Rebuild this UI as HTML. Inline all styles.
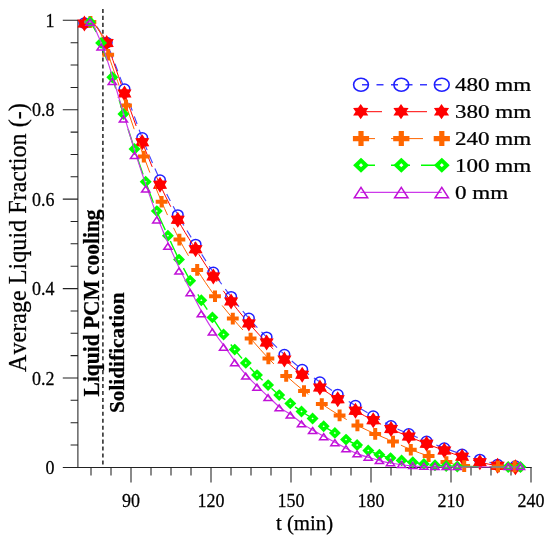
<!DOCTYPE html><html><head><meta charset="utf-8"><title>Average Liquid Fraction</title><style>html,body{margin:0;padding:0;background:#fff}svg{display:block}text{font-family:"Liberation Serif","Times New Roman",serif;fill:#000;stroke:#000;stroke-width:0.25px}</style></head><body>
<svg width="550" height="540" viewBox="0 0 550 540">
<rect width="550" height="540" fill="#fff"/>
<path d="M77.9 19.8V467.4M62.8 467.4H531.8M62.8 467.4H77.9M70.6 445.0H77.9M70.6 422.7H77.9M70.6 400.3H77.9M62.8 378.0H77.9M70.6 355.6H77.9M70.6 333.3H77.9M70.6 310.9H77.9M62.8 288.6H77.9M70.6 266.2H77.9M70.6 243.8H77.9M70.6 221.5H77.9M62.8 199.1H77.9M70.6 176.8H77.9M70.6 154.4H77.9M70.6 132.1H77.9M62.8 109.7H77.9M70.6 87.4H77.9M70.6 65.0H77.9M70.6 42.7H77.9M62.8 20.3H77.9M91.0 467.4V475.4M111.0 467.4V475.4M131.0 467.4V482.4M151.0 467.4V475.4M171.0 467.4V475.4M191.0 467.4V475.4M211.0 467.4V482.4M231.0 467.4V475.4M251.0 467.4V475.4M271.0 467.4V475.4M291.0 467.4V482.4M311.0 467.4V475.4M331.0 467.4V475.4M351.0 467.4V475.4M371.0 467.4V482.4M391.0 467.4V475.4M411.0 467.4V475.4M431.0 467.4V475.4M451.0 467.4V482.4M471.0 467.4V475.4M491.0 467.4V475.4M511.0 467.4V475.4M531.0 467.4V482.4" stroke="#222" stroke-width="1.05" fill="none"/>
<path d="M102.9 8.9V464.5" stroke="#222" stroke-width="1.5" stroke-dasharray="4.1 2.846" fill="none"/>
<text transform="translate(54.5 473.9) scale(0.918 1)" font-size="19.6" text-anchor="end">0</text>
<text transform="translate(54.5 384.5) scale(0.918 1)" font-size="19.6" text-anchor="end">0.2</text>
<text transform="translate(54.5 295.1) scale(0.918 1)" font-size="19.6" text-anchor="end">0.4</text>
<text transform="translate(54.5 205.6) scale(0.918 1)" font-size="19.6" text-anchor="end">0.6</text>
<text transform="translate(54.5 116.2) scale(0.918 1)" font-size="19.6" text-anchor="end">0.8</text>
<text transform="translate(54.5 26.8) scale(0.918 1)" font-size="19.6" text-anchor="end">1</text>
<text transform="translate(131.0 507.4) scale(0.918 1)" font-size="19.6" text-anchor="middle">90</text>
<text transform="translate(211.0 507.4) scale(0.918 1)" font-size="19.6" text-anchor="middle">120</text>
<text transform="translate(291.0 507.4) scale(0.918 1)" font-size="19.6" text-anchor="middle">150</text>
<text transform="translate(371.0 507.4) scale(0.918 1)" font-size="19.6" text-anchor="middle">180</text>
<text transform="translate(451.0 507.4) scale(0.918 1)" font-size="19.6" text-anchor="middle">210</text>
<text transform="translate(531.0 507.4) scale(0.918 1)" font-size="19.6" text-anchor="middle">240</text>
<text x="304.5" y="529.7" font-size="20.8" text-anchor="middle">t (min)</text>
<text transform="translate(26 237.6) rotate(-90) scale(0.943 1)" font-size="25.6" text-anchor="middle" style="font-kerning:none" id="ylab">Average Liquid Fraction (-)</text>
<text transform="translate(98.8 302.9) rotate(-90) scale(0.966 1)" font-size="22.2" font-weight="bold" text-anchor="middle" id="ann1">Liquid PCM cooling</text>
<text transform="translate(123.9 352.7) rotate(-90) scale(0.968 1)" font-size="22" font-weight="bold" text-anchor="middle" id="ann2">Solidification</text>
<g id="s480">
<path d="M84.4 22.0 C85.3 22.0 88.5 21.7 90.0 21.8 C91.5 21.9 92.4 21.9 93.5 22.6 C94.6 23.3 95.3 24.6 96.5 26.2 C97.7 27.8 98.8 29.3 100.5 32.0 C102.2 34.7 102.7 33.1 106.7 42.6 C110.7 52.1 118.5 73.2 124.5 89.1 C130.4 105.0 136.3 122.6 142.2 137.8 C148.2 152.9 154.1 167.2 160.0 180.0 C165.9 192.8 171.9 204.2 177.8 214.9 C183.7 225.6 189.6 234.8 195.6 244.4 C201.5 254.0 207.4 263.6 213.3 272.3 C219.2 281.0 225.2 289.0 231.1 296.7 C237.0 304.4 242.9 311.6 248.9 318.3 C254.8 325.1 260.7 331.2 266.6 337.2 C272.6 343.2 278.5 349.1 284.4 354.5 C290.3 359.9 296.2 365.0 302.2 369.6 C308.1 374.2 314.0 377.9 319.9 382.0 C325.9 386.1 331.8 390.6 337.7 394.5 C343.6 398.4 349.6 402.0 355.5 405.6 C361.4 409.2 367.3 412.6 373.2 416.0 C379.2 419.4 385.1 422.8 391.0 425.8 C396.9 428.8 402.9 431.2 408.8 433.8 C414.7 436.4 420.6 438.9 426.6 441.3 C432.5 443.7 438.4 445.8 444.3 448.0 C450.3 450.2 456.2 452.4 462.1 454.3 C468.0 456.2 473.9 457.7 479.9 459.4 C485.8 461.1 491.7 463.4 497.6 464.5 C503.6 465.6 512.4 465.8 515.4 466.0" stroke="#4444ff" stroke-width="1.15" fill="none" stroke-dasharray="8 6"/>
<g fill="none" stroke="#1f1fff" stroke-width="1.5"><ellipse cx="84.4" cy="23.1" rx="5.3" ry="5.0"/><ellipse cx="106.7" cy="42.6" rx="5.3" ry="5.0"/><ellipse cx="124.5" cy="89.1" rx="5.3" ry="5.0"/><ellipse cx="142.2" cy="137.8" rx="5.3" ry="5.0"/><ellipse cx="160.0" cy="180.0" rx="5.3" ry="5.0"/><ellipse cx="177.8" cy="214.9" rx="5.3" ry="5.0"/><ellipse cx="195.6" cy="244.4" rx="5.3" ry="5.0"/><ellipse cx="213.3" cy="272.3" rx="5.3" ry="5.0"/><ellipse cx="231.1" cy="296.7" rx="5.3" ry="5.0"/><ellipse cx="248.9" cy="318.3" rx="5.3" ry="5.0"/><ellipse cx="266.6" cy="337.2" rx="5.3" ry="5.0"/><ellipse cx="284.4" cy="354.5" rx="5.3" ry="5.0"/><ellipse cx="302.2" cy="369.6" rx="5.3" ry="5.0"/><ellipse cx="319.9" cy="382.0" rx="5.3" ry="5.0"/><ellipse cx="337.7" cy="394.5" rx="5.3" ry="5.0"/><ellipse cx="355.5" cy="405.6" rx="5.3" ry="5.0"/><ellipse cx="373.2" cy="416.0" rx="5.3" ry="5.0"/><ellipse cx="391.0" cy="425.8" rx="5.3" ry="5.0"/><ellipse cx="408.8" cy="433.8" rx="5.3" ry="5.0"/><ellipse cx="426.6" cy="441.3" rx="5.3" ry="5.0"/><ellipse cx="444.3" cy="448.0" rx="5.3" ry="5.0"/><ellipse cx="462.1" cy="454.3" rx="5.3" ry="5.0"/><ellipse cx="479.9" cy="459.4" rx="5.3" ry="5.0"/><ellipse cx="497.6" cy="464.5" rx="5.3" ry="5.0"/><ellipse cx="515.4" cy="466.0" rx="5.3" ry="5.0"/></g></g>
<g id="s380">
<path d="M84.4 22.6 C85.3 22.6 88.5 22.3 90.0 22.4 C91.5 22.5 92.4 22.5 93.5 23.3 C94.6 24.1 95.3 25.4 96.5 27.0 C97.7 28.6 98.8 30.2 100.5 32.9 C102.2 35.6 102.7 32.9 106.7 43.0 C110.7 53.1 118.5 76.9 124.5 93.4 C130.4 109.9 136.3 127.0 142.2 142.2 C148.2 157.4 154.1 171.8 160.0 184.7 C165.9 197.6 171.9 209.1 177.8 219.8 C183.7 230.6 189.6 239.8 195.6 249.2 C201.5 258.7 207.4 267.8 213.3 276.5 C219.2 285.2 225.2 293.6 231.1 301.4 C237.0 309.2 242.9 316.5 248.9 323.4 C254.8 330.2 260.7 336.5 266.6 342.5 C272.6 348.5 278.5 354.2 284.4 359.6 C290.3 365.0 296.2 370.0 302.2 374.7 C308.1 379.4 314.0 383.5 319.9 387.6 C325.9 391.7 331.8 395.3 337.7 399.2 C343.6 403.1 349.6 407.2 355.5 410.7 C361.4 414.2 367.3 417.2 373.2 420.3 C379.2 423.3 385.1 426.3 391.0 429.0 C396.9 431.7 402.9 434.1 408.8 436.6 C414.7 439.1 420.6 441.5 426.6 443.8 C432.5 446.1 438.4 448.3 444.3 450.5 C450.3 452.7 456.2 454.9 462.1 456.8 C468.0 458.8 473.9 460.7 479.9 462.2 C485.8 463.7 491.7 464.8 497.6 465.7 C503.6 466.6 512.4 467.0 515.4 467.3" stroke="#ff0000" stroke-width="1.0" fill="none" stroke-dasharray="33 11"/>
<g fill="#ff0000"><polygon points="84.4,15.6 86.8,19.4 91.5,19.6 89.3,23.6 91.5,27.6 86.8,27.8 84.4,31.6 82.0,27.8 77.3,27.6 79.5,23.6 77.3,19.6 82.0,19.4"/><polygon points="106.7,35.0 109.1,38.8 113.8,39.0 111.6,43.0 113.8,47.0 109.1,47.2 106.7,51.0 104.3,47.2 99.6,47.0 101.8,43.0 99.6,39.0 104.3,38.8"/><polygon points="124.5,85.4 126.9,89.2 131.5,89.4 129.4,93.4 131.5,97.4 126.9,97.6 124.5,101.4 122.0,97.6 117.4,97.4 119.6,93.4 117.4,89.4 122.0,89.2"/><polygon points="142.2,134.2 144.7,138.0 149.3,138.2 147.1,142.2 149.3,146.2 144.7,146.4 142.2,150.2 139.8,146.4 135.2,146.2 137.3,142.2 135.2,138.2 139.8,138.0"/><polygon points="160.0,176.7 162.5,180.5 167.1,180.7 164.9,184.7 167.1,188.7 162.5,188.9 160.0,192.7 157.6,188.9 152.9,188.7 155.1,184.7 152.9,180.7 157.6,180.5"/><polygon points="177.8,211.8 180.2,215.6 184.8,215.8 182.7,219.8 184.8,223.8 180.2,224.0 177.8,227.8 175.3,224.0 170.7,223.8 172.9,219.8 170.7,215.8 175.3,215.6"/><polygon points="195.6,241.2 198.0,245.0 202.6,245.2 200.4,249.2 202.6,253.2 198.0,253.4 195.6,257.2 193.1,253.4 188.5,253.2 190.7,249.2 188.5,245.2 193.1,245.0"/><polygon points="213.3,268.5 215.8,272.3 220.4,272.5 218.2,276.5 220.4,280.5 215.8,280.7 213.3,284.5 210.9,280.7 206.3,280.5 208.4,276.5 206.3,272.5 210.9,272.3"/><polygon points="231.1,293.4 233.5,297.2 238.2,297.4 236.0,301.4 238.2,305.4 233.5,305.6 231.1,309.4 228.6,305.6 224.0,305.4 226.2,301.4 224.0,297.4 228.6,297.2"/><polygon points="248.9,315.4 251.3,319.2 255.9,319.4 253.8,323.4 255.9,327.4 251.3,327.6 248.9,331.4 246.4,327.6 241.8,327.4 244.0,323.4 241.8,319.4 246.4,319.2"/><polygon points="266.6,334.5 269.1,338.3 273.7,338.5 271.5,342.5 273.7,346.5 269.1,346.7 266.6,350.5 264.2,346.7 259.6,346.5 261.7,342.5 259.6,338.5 264.2,338.3"/><polygon points="284.4,351.6 286.8,355.4 291.5,355.6 289.3,359.6 291.5,363.6 286.8,363.8 284.4,367.6 282.0,363.8 277.3,363.6 279.5,359.6 277.3,355.6 282.0,355.4"/><polygon points="302.2,366.7 304.6,370.5 309.2,370.7 307.1,374.7 309.2,378.7 304.6,378.9 302.2,382.7 299.7,378.9 295.1,378.7 297.3,374.7 295.1,370.7 299.7,370.5"/><polygon points="319.9,379.6 322.4,383.4 327.0,383.6 324.8,387.6 327.0,391.6 322.4,391.8 319.9,395.6 317.5,391.8 312.9,391.6 315.0,387.6 312.9,383.6 317.5,383.4"/><polygon points="337.7,391.2 340.2,395.0 344.8,395.2 342.6,399.2 344.8,403.2 340.2,403.4 337.7,407.2 335.3,403.4 330.6,403.2 332.8,399.2 330.6,395.2 335.3,395.0"/><polygon points="355.5,402.7 357.9,406.5 362.5,406.7 360.4,410.7 362.5,414.7 357.9,414.9 355.5,418.7 353.0,414.9 348.4,414.7 350.6,410.7 348.4,406.7 353.0,406.5"/><polygon points="373.2,412.3 375.7,416.1 380.3,416.3 378.1,420.3 380.3,424.3 375.7,424.5 373.2,428.3 370.8,424.5 366.2,424.3 368.4,420.3 366.2,416.3 370.8,416.1"/><polygon points="391.0,421.0 393.5,424.8 398.1,425.0 395.9,429.0 398.1,433.0 393.5,433.2 391.0,437.0 388.6,433.2 384.0,433.0 386.1,429.0 384.0,425.0 388.6,424.8"/><polygon points="408.8,428.6 411.2,432.4 415.9,432.6 413.7,436.6 415.9,440.6 411.2,440.8 408.8,444.6 406.3,440.8 401.7,440.6 403.9,436.6 401.7,432.6 406.3,432.4"/><polygon points="426.6,435.8 429.0,439.6 433.6,439.8 431.5,443.8 433.6,447.8 429.0,448.0 426.6,451.8 424.1,448.0 419.5,447.8 421.7,443.8 419.5,439.8 424.1,439.6"/><polygon points="444.3,442.5 446.8,446.3 451.4,446.5 449.2,450.5 451.4,454.5 446.8,454.7 444.3,458.5 441.9,454.7 437.3,454.5 439.4,450.5 437.3,446.5 441.9,446.3"/><polygon points="462.1,448.8 464.5,452.6 469.2,452.8 467.0,456.8 469.2,460.8 464.5,461.0 462.1,464.8 459.7,461.0 455.0,460.8 457.2,456.8 455.0,452.8 459.7,452.6"/><polygon points="479.9,454.2 482.3,458.0 486.9,458.2 484.8,462.2 486.9,466.2 482.3,466.4 479.9,470.2 477.4,466.4 472.8,466.2 475.0,462.2 472.8,458.2 477.4,458.0"/><polygon points="497.6,457.7 500.1,461.5 504.7,461.7 502.5,465.7 504.7,469.7 500.1,469.9 497.6,473.7 495.2,469.9 490.6,469.7 492.7,465.7 490.6,461.7 495.2,461.5"/><polygon points="515.4,459.3 517.9,463.1 522.5,463.3 520.3,467.3 522.5,471.3 517.9,471.5 515.4,475.3 513.0,471.5 508.3,471.3 510.5,467.3 508.3,463.3 513.0,463.1"/></g></g>
<g id="s240">
<path d="M84.0 21.9 C85.1 21.9 88.8 21.7 90.4 21.9 C92.0 22.1 92.7 22.1 93.7 23.0 C94.8 23.9 95.5 25.2 96.7 27.0 C97.9 28.8 99.1 29.4 101.0 34.0 C102.9 38.6 104.0 42.7 108.2 54.6 C112.4 66.5 120.1 88.4 126.0 105.4 C131.9 122.4 137.9 140.4 143.8 156.5 C149.7 172.6 155.7 187.9 161.6 201.7 C167.5 215.5 173.5 228.1 179.4 239.5 C185.3 250.9 191.3 260.5 197.2 269.9 C203.1 279.3 209.1 288.0 215.0 296.1 C220.9 304.2 226.9 311.4 232.8 318.5 C238.7 325.6 244.7 331.9 250.6 338.5 C256.5 345.1 262.5 352.1 268.4 358.3 C274.3 364.5 280.3 370.4 286.2 375.8 C292.1 381.2 298.1 386.3 304.0 391.0 C309.9 395.7 315.9 399.9 321.8 404.0 C327.7 408.1 333.7 411.8 339.6 415.4 C345.5 419.0 351.5 422.3 357.4 425.4 C363.3 428.5 369.3 431.2 375.2 433.9 C381.1 436.6 387.1 438.9 393.0 441.5 C398.9 444.1 404.9 447.2 410.8 449.6 C416.7 452.0 422.7 454.0 428.6 456.1 C434.5 458.1 440.5 460.2 446.4 461.9 C452.3 463.6 455.6 465.3 464.2 466.0 C472.8 466.8 489.6 466.4 498.0 466.4 C506.4 466.5 511.9 466.4 514.7 466.4" stroke="#ff6600" stroke-width="1.0" fill="none" stroke-dasharray="32 14"/>
<g fill="#ff6600"><path d="M88.4 16.1h4.0v3.8h3.9v4.0h-3.9v3.8h-4.0v-3.8h-3.9v-4.0h3.9z"/><path d="M106.2 48.9h4.0v3.8h3.9v4.0h-3.9v3.8h-4.0v-3.8h-3.9v-4.0h3.9z"/><path d="M124.0 99.7h4.0v3.8h3.9v4.0h-3.9v3.8h-4.0v-3.8h-3.9v-4.0h3.9z"/><path d="M141.8 150.8h4.0v3.8h3.9v4.0h-3.9v3.8h-4.0v-3.8h-3.9v-4.0h3.9z"/><path d="M159.6 195.9h4.0v3.8h3.9v4.0h-3.9v3.8h-4.0v-3.8h-3.9v-4.0h3.9z"/><path d="M177.4 233.8h4.0v3.8h3.9v4.0h-3.9v3.8h-4.0v-3.8h-3.9v-4.0h3.9z"/><path d="M195.2 264.1h4.0v3.8h3.9v4.0h-3.9v3.8h-4.0v-3.8h-3.9v-4.0h3.9z"/><path d="M213.0 290.4h4.0v3.8h3.9v4.0h-3.9v3.8h-4.0v-3.8h-3.9v-4.0h3.9z"/><path d="M230.8 312.8h4.0v3.8h3.9v4.0h-3.9v3.8h-4.0v-3.8h-3.9v-4.0h3.9z"/><path d="M248.6 332.8h4.0v3.8h3.9v4.0h-3.9v3.8h-4.0v-3.8h-3.9v-4.0h3.9z"/><path d="M266.4 352.6h4.0v3.8h3.9v4.0h-3.9v3.8h-4.0v-3.8h-3.9v-4.0h3.9z"/><path d="M284.2 370.1h4.0v3.8h3.9v4.0h-3.9v3.8h-4.0v-3.8h-3.9v-4.0h3.9z"/><path d="M302.0 385.2h4.0v3.8h3.9v4.0h-3.9v3.8h-4.0v-3.8h-3.9v-4.0h3.9z"/><path d="M319.8 398.2h4.0v3.8h3.9v4.0h-3.9v3.8h-4.0v-3.8h-3.9v-4.0h3.9z"/><path d="M337.6 409.6h4.0v3.8h3.9v4.0h-3.9v3.8h-4.0v-3.8h-3.9v-4.0h3.9z"/><path d="M355.4 419.6h4.0v3.8h3.9v4.0h-3.9v3.8h-4.0v-3.8h-3.9v-4.0h3.9z"/><path d="M373.2 428.1h4.0v3.8h3.9v4.0h-3.9v3.8h-4.0v-3.8h-3.9v-4.0h3.9z"/><path d="M391.0 435.8h4.0v3.8h3.9v4.0h-3.9v3.8h-4.0v-3.8h-3.9v-4.0h3.9z"/><path d="M408.8 443.9h4.0v3.8h3.9v4.0h-3.9v3.8h-4.0v-3.8h-3.9v-4.0h3.9z"/><path d="M426.6 450.3h4.0v3.8h3.9v4.0h-3.9v3.8h-4.0v-3.8h-3.9v-4.0h3.9z"/><path d="M444.4 456.2h4.0v3.8h3.9v4.0h-3.9v3.8h-4.0v-3.8h-3.9v-4.0h3.9z"/><path d="M462.2 460.3h4.0v3.8h3.9v4.0h-3.9v3.8h-4.0v-3.8h-3.9v-4.0h3.9z"/><path d="M496.0 460.7h4.0v3.8h3.9v4.0h-3.9v3.8h-4.0v-3.8h-3.9v-4.0h3.9z"/><path d="M512.7 460.7h4.0v3.8h3.9v4.0h-3.9v3.8h-4.0v-3.8h-3.9v-4.0h3.9z"/></g></g>
<g id="s100">
<path d="M84.0 21.8 C85.0 21.8 88.7 21.4 90.0 21.8 C91.3 22.2 91.0 22.8 92.0 24.5 C93.0 26.2 94.5 28.7 96.0 31.8 C97.5 34.9 98.4 35.3 101.1 42.9 C103.8 50.5 108.6 65.5 112.3 77.3 C116.0 89.1 119.7 102.0 123.4 114.0 C127.1 126.0 130.8 137.7 134.5 149.0 C138.2 160.3 141.9 171.4 145.7 181.8 C149.4 192.1 153.1 202.1 156.8 211.1 C160.5 220.1 164.2 227.6 167.9 235.7 C171.6 243.8 175.3 252.1 179.0 259.6 C182.8 267.1 186.5 273.9 190.2 280.7 C193.9 287.5 197.6 294.2 201.3 300.3 C205.0 306.4 208.7 311.7 212.4 317.4 C216.1 323.1 219.8 329.1 223.6 334.5 C227.3 339.9 231.0 344.9 234.7 349.6 C238.4 354.3 242.1 358.6 245.8 362.9 C249.5 367.1 253.2 371.4 257.0 375.1 C260.7 378.8 264.4 381.8 268.1 385.1 C271.8 388.4 275.5 392.0 279.2 395.1 C282.9 398.1 286.6 400.7 290.3 403.4 C294.1 406.1 297.8 409.0 301.5 411.5 C305.2 414.0 308.9 416.0 312.6 418.5 C316.3 421.0 320.0 423.9 323.7 426.3 C327.4 428.7 331.2 430.7 334.9 432.9 C338.6 435.1 342.3 437.6 346.0 439.6 C349.7 441.6 353.4 443.2 357.1 445.0 C360.8 446.8 364.5 448.9 368.2 450.5 C372.0 452.1 375.7 453.5 379.4 454.8 C383.1 456.0 386.8 457.1 390.5 458.1 C394.2 459.0 397.9 459.7 401.6 460.4 C405.4 461.1 409.1 461.8 412.8 462.3 C416.5 462.9 420.2 463.4 423.9 463.9 C427.6 464.4 431.3 464.8 435.0 465.2 C438.7 465.5 442.5 465.8 446.2 466.0 C449.9 466.3 447.0 466.4 457.3 466.5 C467.6 466.7 497.7 466.9 508.2 467.0 C518.7 467.1 518.5 467.0 520.5 467.0" stroke="#00ff00" stroke-width="1.4" fill="none" stroke-dasharray="18 12"/>
<g fill="#fff" stroke="#00ff00" stroke-width="3.5" stroke-linejoin="miter"><path d="M90.0 18.4L93.5 21.9L90.0 25.4L86.5 21.9z"/><path d="M101.1 39.4L104.6 42.9L101.1 46.4L97.6 42.9z"/><path d="M112.3 73.8L115.8 77.3L112.3 80.8L108.8 77.3z"/><path d="M123.4 110.5L126.9 114.0L123.4 117.5L119.9 114.0z"/><path d="M134.5 145.5L138.0 149.0L134.5 152.5L131.0 149.0z"/><path d="M145.7 178.3L149.2 181.8L145.7 185.3L142.2 181.8z"/><path d="M156.8 207.6L160.3 211.1L156.8 214.6L153.3 211.1z"/><path d="M167.9 232.2L171.4 235.7L167.9 239.2L164.4 235.7z"/><path d="M179.0 256.1L182.5 259.6L179.0 263.1L175.5 259.6z"/><path d="M190.2 277.2L193.7 280.7L190.2 284.2L186.7 280.7z"/><path d="M201.3 296.8L204.8 300.3L201.3 303.8L197.8 300.3z"/><path d="M212.4 313.9L215.9 317.4L212.4 320.9L208.9 317.4z"/><path d="M223.6 331.0L227.1 334.5L223.6 338.0L220.1 334.5z"/><path d="M234.7 346.1L238.2 349.6L234.7 353.1L231.2 349.6z"/><path d="M245.8 359.4L249.3 362.9L245.8 366.4L242.3 362.9z"/><path d="M257.0 371.6L260.5 375.1L257.0 378.6L253.5 375.1z"/><path d="M268.1 381.6L271.6 385.1L268.1 388.6L264.6 385.1z"/><path d="M279.2 391.6L282.7 395.1L279.2 398.6L275.7 395.1z"/><path d="M290.3 399.9L293.8 403.4L290.3 406.9L286.8 403.4z"/><path d="M301.5 408.0L305.0 411.5L301.5 415.0L298.0 411.5z"/><path d="M312.6 415.0L316.1 418.5L312.6 422.0L309.1 418.5z"/><path d="M323.7 422.8L327.2 426.3L323.7 429.8L320.2 426.3z"/><path d="M334.9 429.4L338.4 432.9L334.9 436.4L331.4 432.9z"/><path d="M346.0 436.1L349.5 439.6L346.0 443.1L342.5 439.6z"/><path d="M357.1 441.5L360.6 445.0L357.1 448.5L353.6 445.0z"/><path d="M368.2 447.0L371.8 450.5L368.2 454.0L364.8 450.5z"/><path d="M379.4 451.3L382.9 454.8L379.4 458.3L375.9 454.8z"/><path d="M390.5 454.6L394.0 458.1L390.5 461.6L387.0 458.1z"/><path d="M401.6 456.9L405.1 460.4L401.6 463.9L398.1 460.4z"/><path d="M412.8 458.8L416.3 462.3L412.8 465.8L409.3 462.3z"/><path d="M423.9 460.4L427.4 463.9L423.9 467.4L420.4 463.9z"/><path d="M435.0 461.7L438.5 465.2L435.0 468.7L431.5 465.2z"/><path d="M446.2 462.5L449.7 466.0L446.2 469.5L442.7 466.0z"/><path d="M457.3 463.0L460.8 466.5L457.3 470.0L453.8 466.5z"/><path d="M508.2 463.5L511.7 467.0L508.2 470.5L504.7 467.0z"/><path d="M520.5 463.5L524.0 467.0L520.5 470.5L517.0 467.0z"/></g></g>
<g id="s0">
<path d="M84.0 22.0 C85.0 22.0 88.6 21.9 90.0 22.1 C91.4 22.3 91.7 22.4 92.5 23.2 C93.3 24.0 93.8 25.1 94.6 27.0 C95.4 28.9 96.2 31.1 97.6 34.5 C99.0 37.9 100.3 39.7 103.0 47.6 C105.8 55.5 110.5 70.0 114.2 82.0 C117.9 94.0 121.6 107.2 125.3 119.6 C129.0 131.9 132.7 144.4 136.4 156.1 C140.1 167.8 143.8 178.9 147.6 189.6 C151.3 200.3 155.0 210.9 158.7 220.5 C162.4 230.1 166.1 238.4 169.8 246.9 C173.5 255.4 177.2 263.9 180.9 271.6 C184.7 279.3 188.4 286.2 192.1 293.3 C195.8 300.4 199.5 307.9 203.2 314.4 C206.9 320.9 210.6 326.9 214.3 332.5 C218.0 338.1 221.8 342.7 225.5 347.8 C229.2 352.9 232.9 358.5 236.6 363.3 C240.3 368.1 244.0 372.6 247.7 376.7 C251.4 380.8 255.1 384.2 258.9 387.8 C262.6 391.4 266.3 394.8 270.0 398.2 C273.7 401.6 277.4 405.5 281.1 408.4 C284.8 411.3 288.5 412.9 292.2 415.6 C295.9 418.3 299.7 421.8 303.4 424.4 C307.1 427.0 310.8 429.0 314.5 431.1 C318.2 433.2 321.9 435.3 325.6 437.3 C329.3 439.3 333.1 441.3 336.8 443.3 C340.5 445.3 344.2 447.5 347.9 449.3 C351.6 451.1 355.3 453.0 359.0 454.4 C362.7 455.8 366.4 456.7 370.1 457.8 C373.9 458.9 377.6 460.2 381.3 461.1 C385.0 462.0 388.7 462.7 392.4 463.3 C396.1 463.9 399.8 464.6 403.5 465.0 C407.2 465.4 411.0 465.7 414.7 466.0 C418.4 466.3 422.1 466.6 425.8 466.8 C429.5 467.0 433.2 467.0 436.9 467.0 C440.6 467.0 444.4 467.0 448.1 467.0 C451.8 467.0 448.9 467.0 459.2 467.0 C469.5 467.0 499.6 467.0 510.1 467.0 C520.6 467.0 520.4 467.0 522.4 467.0" stroke="#cc3aea" stroke-width="1.15" fill="none"/>
<g fill="none" stroke="#c010d8" stroke-width="1.5"><path d="M90.0 19.2L94.1 25.2L85.9 25.2z"/><path d="M101.1 44.0L105.2 50.0L97.0 50.0z"/><path d="M112.3 78.4L116.4 84.4L108.2 84.4z"/><path d="M123.4 116.0L127.5 122.0L119.3 122.0z"/><path d="M134.5 152.5L138.6 158.5L130.4 158.5z"/><path d="M145.7 186.0L149.8 192.0L141.6 192.0z"/><path d="M156.8 216.9L160.9 222.9L152.7 222.9z"/><path d="M167.9 243.3L172.0 249.3L163.8 249.3z"/><path d="M179.0 268.0L183.1 274.0L174.9 274.0z"/><path d="M190.2 289.7L194.3 295.7L186.1 295.7z"/><path d="M201.3 310.8L205.4 316.8L197.2 316.8z"/><path d="M212.4 328.9L216.5 334.9L208.3 334.9z"/><path d="M223.6 344.2L227.7 350.2L219.5 350.2z"/><path d="M234.7 359.7L238.8 365.7L230.6 365.7z"/><path d="M245.8 373.1L249.9 379.1L241.7 379.1z"/><path d="M257.0 384.2L261.1 390.2L252.9 390.2z"/><path d="M268.1 394.6L272.2 400.6L264.0 400.6z"/><path d="M279.2 404.8L283.3 410.8L275.1 410.8z"/><path d="M290.3 412.0L294.4 418.0L286.2 418.0z"/><path d="M301.5 420.8L305.6 426.8L297.4 426.8z"/><path d="M312.6 427.5L316.7 433.5L308.5 433.5z"/><path d="M323.7 433.7L327.8 439.7L319.6 439.7z"/><path d="M334.9 439.7L339.0 445.7L330.8 445.7z"/><path d="M346.0 445.7L350.1 451.7L341.9 451.7z"/><path d="M357.1 450.8L361.2 456.8L353.0 456.8z"/><path d="M368.2 454.2L372.4 460.2L364.1 460.2z"/><path d="M379.4 457.5L383.5 463.5L375.3 463.5z"/><path d="M390.5 459.7L394.6 465.7L386.4 465.7z"/><path d="M401.6 461.4L405.7 467.4L397.5 467.4z"/><path d="M412.8 462.4L416.9 468.4L408.7 468.4z"/><path d="M423.9 463.2L428.0 469.2L419.8 469.2z"/><path d="M435.0 463.4L439.1 469.4L430.9 469.4z"/><path d="M446.2 463.4L450.3 469.4L442.1 469.4z"/><path d="M457.3 463.4L461.4 469.4L453.2 469.4z"/><path d="M508.2 463.4L512.3 469.4L504.1 469.4z"/><path d="M520.5 463.4L524.6 469.4L516.4 469.4z"/></g></g>
<g id="legend">
<path d="M361 84.8H441.8" stroke="#3a3aff" stroke-width="1.4" stroke-dasharray="7 7.5" stroke-dashoffset="-1" fill="none"/>
<g fill="none" stroke="#1f1fff" stroke-width="1.6"><ellipse cx="361.0" cy="84.8" rx="7.4" ry="6.5"/><ellipse cx="401.3" cy="84.8" rx="7.4" ry="6.5"/><ellipse cx="441.8" cy="84.8" rx="7.4" ry="6.5"/></g>
<path d="M361 111.7H382M401.3 111.7H427" stroke="#ff0000" stroke-width="1" fill="none"/>
<g fill="#ff0000"><polygon points="360.7,104.1 363.3,107.8 368.3,107.9 365.8,111.7 368.3,115.5 363.3,115.6 360.7,119.3 358.1,115.6 353.1,115.5 355.6,111.7 353.1,107.9 358.1,107.8"/><polygon points="401.0,104.1 403.6,107.8 408.6,107.9 406.1,111.7 408.6,115.5 403.6,115.6 401.0,119.3 398.4,115.6 393.4,115.5 395.9,111.7 393.4,107.9 398.4,107.8"/><polygon points="441.5,104.1 444.1,107.8 449.1,107.9 446.6,111.7 449.1,115.5 444.1,115.6 441.5,119.3 438.9,115.6 433.9,115.5 436.4,111.7 433.9,107.9 438.9,107.8"/></g>
<path d="M361 138.6H375M391 138.6H423" stroke="#ff6600" stroke-width="1" fill="none"/>
<g fill="#ff6600"><path d="M358.4 131.1h5.2v4.9h5.5v5.2h-5.5v4.9h-5.2v-4.9h-5.5v-5.2h5.5z"/><path d="M398.7 131.1h5.2v4.9h5.5v5.2h-5.5v4.9h-5.2v-4.9h-5.5v-5.2h5.5z"/><path d="M439.2 131.1h5.2v4.9h5.5v5.2h-5.5v4.9h-5.2v-4.9h-5.5v-5.2h5.5z"/></g>
<path d="M361 165.2H375M391 165.2H410M421 165.2H441" stroke="#00ff00" stroke-width="1.4" fill="none"/>
<g fill="#fff" stroke="#00ff00" stroke-width="4.0"><path d="M361.0 160.4L366.0 165.2L361.0 170.0L356.0 165.2z"/><path d="M401.3 160.4L406.3 165.2L401.3 170.0L396.3 165.2z"/><path d="M441.8 160.4L446.8 165.2L441.8 170.0L436.8 165.2z"/></g>
<path d="M360.4 192.3H441.8" stroke="#cc3aea" stroke-width="1.15" fill="none"/>
<g fill="none" stroke="#c010d8" stroke-width="1.5"><path d="M361.0 187.3L367.7 197.8L354.3 197.8z"/><path d="M401.3 187.3L408.0 197.8L394.6 197.8z"/><path d="M441.8 187.3L448.5 197.8L435.1 197.8z"/></g>
<text transform="translate(455 91.3) scale(1.165 1)" font-size="19.8">480 mm</text>
<text transform="translate(455 118.2) scale(1.165 1)" font-size="19.8">380 mm</text>
<text transform="translate(455 145.1) scale(1.165 1)" font-size="19.8">240 mm</text>
<text transform="translate(455 171.7) scale(1.165 1)" font-size="19.8">100 mm</text>
<text transform="translate(455 198.5) scale(1.165 1)" font-size="19.8">0 mm</text>
</g>
</svg></body></html>
